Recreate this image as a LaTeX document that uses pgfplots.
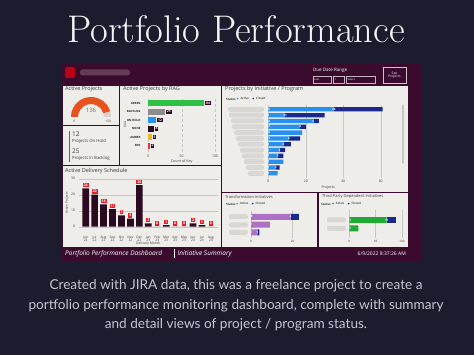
\documentclass[border=0pt]{standalone}
\usepackage{pgfplots}
\pgfplotsset{compat=1.18}
\usepackage{fontspec}
\newfontfamily\ui{Open Sans}
\newfontfamily\gill{Lato}
\newcommand\fs[1]{\fontsize{#1}{#1}\selectfont}
\definecolor{bg}{HTML}{1D1C2E}
\definecolor{frame}{HTML}{3B0B2E}
\definecolor{panel}{HTML}{EFEDEA}
\definecolor{ttl}{HTML}{F4F4F6}
\definecolor{sub}{HTML}{C6C4CE}
\definecolor{gorange}{HTML}{E8521C}
\definecolor{ggray}{HTML}{D6D3D0}
\definecolor{rgreen}{HTML}{2EC045}
\definecolor{rgray}{HTML}{8C8C8C}
\definecolor{rblue}{HTML}{2196F3}
\definecolor{rnone}{HTML}{2B0A22}
\definecolor{ramber}{HTML}{F0B429}
\definecolor{rred}{HTML}{E5313D}
\definecolor{lab}{HTML}{2B0A22}
\definecolor{dred}{HTML}{E41E26}
\definecolor{dbar}{HTML}{2B0A20}
\definecolor{iact}{HTML}{2A90F0}
\definecolor{iclo}{HTML}{1A2A8C}
\definecolor{tpur}{HTML}{AC6FC4}
\definecolor{tgrn}{HTML}{22A836}
\definecolor{txt}{HTML}{3C3C3C}
\definecolor{gridc}{HTML}{C9C6C3}
\pgfplotsset{
  dash/.style={
    scale only axis, anchor=south west,
    axis line style={draw=none}, tick style={draw=none},
    /pgf/number format/assume math mode=true,
    ticklabel style={font=\ui\fs{3.4}, text=txt},
    label style={font=\ui\fs{3.6}, text=txt},
    clip=false,
  },
  seglabel/.style={
    visualization depends on={rawx \as \rawxv},
    point meta=rawx,
    nodes near coords={\pgfmathfloatifflags{\pgfplotspointmeta}{0}{}{\pgfmathprintnumber{\pgfplotspointmeta}}},
    every node near coord/.append style={anchor=center, text=white, font=\ui\bfseries\fs{3}, inner sep=0.5pt, xshift={-0.5*\rawxv*#1}},
  },
  dotlegend/.style={legend image code/.code={\fill[##1] (0pt,0.4pt) circle (0.9pt);},
    legend style={draw=none, fill=none, font=\ui\fs{3}, legend columns=-1, inner sep=0pt,
      /tikz/every even column/.append style={column sep=1.5pt}}},
}
\begin{document}
\begin{tikzpicture}[x=1pt,y=1pt]
\useasboundingbox (0,0) rectangle (474,355);
\fill[bg] (0,0) rectangle (474,355);
\node[anchor=base, text=ttl, font=\fs{38.5}, inner sep=0] at (236,312) {Portfolio Performance};
\node[anchor=base, text=sub, font=\gill\fs{13.6}, inner sep=0] at (236,65) {Created with JIRA data, this was a freelance project to create a};
\node[anchor=base, text=sub, font=\gill\fs{13.6}, inner sep=0] at (236,45.5) {portfolio performance monitoring dashboard, complete with summary};
\node[anchor=base, text=sub, font=\gill\fs{13.6}, inner sep=0] at (236,26) {and detail views of project / program status.};
% dashboard frame
\fill[frame] (62,93) rectangle (421,292);
\foreach \a/\b/\c/\d in {63/230/119/269, 63/190/119/229, 120/190/221/269, 63/108/221/189, 222/163/408/269, 222/108/317/162, 319/108/408/162}
  \fill[panel] (\a,\b) rectangle (\c,\d);
% header
\fill[red!75!frame, rounded corners=2pt, opacity=0.85] (65,277) rectangle (75,288);
\fill[white, opacity=0.2, rounded corners=2.5pt] (80,279.5) rectangle (130,285.5);
\node[anchor=west, text=white, font=\ui\fs{4.5}, inner sep=0] at (313,285) {Due Date Range};
\draw[white!70!frame, line width=0.3pt] (313,272) rectangle (331,279);
\draw[white!70!frame, line width=0.3pt] (333,272) rectangle (344,279);
\draw[white!70!frame, line width=0.3pt] (346,272) rectangle (375,279);
\node[anchor=west, text=white, font=\ui\fs{2.6}, inner sep=0] at (314,275.5) {Last};
\node[anchor=west, text=white, font=\ui\fs{2.6}, inner sep=0] at (334.5,275.5) {1};
\node[anchor=west, text=white, font=\ui\fs{2.6}, inner sep=0] at (347.5,275.5) {Select};
\draw[white!75!frame, line width=0.6pt] (383,272) rectangle (406,288);
\node[align=center, text=white, font=\ui\fs{3.3}, inner sep=0] at (394.5,280) {See\\Projects};
% footer
\node[anchor=west, text=white, font=\ui\itshape\fs{6.5}, inner sep=0] at (65,101) {Portfolio Performance Dashboard};
\draw[white, line width=0.6pt] (174,96.5) -- (174,105.5);
\node[anchor=west, text=white, font=\ui\itshape\fs{6.5}, inner sep=0] at (177.5,101) {Initiative Summary};
\node[anchor=east, text=white, font=\ui\fs{5}, inner sep=0] at (406,101) {6/9/2022 8:37:26 AM};
% panel titles
\node[anchor=west, text=txt, font=\ui\fs{5.5}, inner sep=0] at (65,266) {Active Projects};
\node[anchor=west, text=txt, font=\ui\fs{5.5}, inner sep=0] at (123,266) {Active Projects by RAG};
\node[anchor=west, text=txt, font=\ui\fs{5.5}, inner sep=0] at (225,266) {Projects by Initiative / Program};
\node[anchor=west, text=txt, font=\ui\fs{5.5}, inner sep=0] at (65,184) {Active Delivery Schedule};
\node[anchor=west, text=txt, font=\ui\fs{4}, inner sep=0] at (225,158.5) {Transformation Initiatives};
\node[anchor=west, text=txt, font=\ui\fs{4}, inner sep=0] at (322,158.5) {Third Party Dependent Initiatives};
\node[anchor=west, text=txt, font=\ui\bfseries\fs{3}, inner sep=0] at (226,256) {Status};
\node[anchor=west, text=txt, font=\ui\bfseries\fs{3}, inner sep=0] at (226,151) {Status};
\node[anchor=west, text=txt, font=\ui\bfseries\fs{3}, inner sep=0] at (321,151) {Status};
% KPIs
\draw[txt!80, line width=0.8pt] (69,193) -- (69,224);
\node[anchor=west, text=txt, font=\ui\fs{6.5}, inner sep=0] at (72,221) {12};
\node[anchor=west, text=txt, font=\ui\fs{4.3}, inner sep=0] at (72,214) {Projects On Hold};
\node[anchor=west, text=txt, font=\ui\fs{6.5}, inner sep=0] at (72,204) {25};
\node[anchor=west, text=txt, font=\ui\fs{4.3}, inner sep=0] at (72,197) {Projects In Backlog};
% blurred labels
\foreach \i/\s in {0/228,1/229,2/231,3/232,4/234,5/236,6/238,7/240,8/242,9/244,10/246,11/248}
  \fill[black, opacity=0.09, rounded corners=2pt] (\s,{355-109.3-5.82*\i-2.5}) rectangle (264,{355-109.3-5.82*\i+2.5});
\foreach \yy in {138.3,130,122.7} \fill[black, opacity=0.09, rounded corners=2pt] (229,\yy-2.5) rectangle (248,\yy+2.5);
\foreach \yy in {135,126.7} \fill[black, opacity=0.09, rounded corners=2pt] (327,\yy-2.5) rectangle (346,\yy+2.5);
\draw[gray!45, line width=1.2pt, line cap=round] (403,192) -- (403,250);
% gauge
\pgfmathsetmacro\gend{180-180*(136/150)}
\begin{axis}[at={(70pt,238pt)}, anchor=south west, scale only axis, width=42pt, height=21pt,
  xmin=-1,xmax=1,ymin=0,ymax=1, hide axis, clip=false]
  \fill[ggray] (axis cs:0,0) ++(\gend:20pt) arc[start angle=\gend,end angle=0,radius=20pt] -- ++(0:-7pt) arc[start angle=0,end angle=\gend,radius=13pt] -- cycle;
  \fill[gorange] (axis cs:0,0) ++(180:20pt) arc[start angle=180,end angle=\gend,radius=20pt] -- ++(\gend:-7pt) arc[start angle=\gend,end angle=180,radius=13pt] -- cycle;
  \node[text=txt!75, font=\ui\fs{6}] at (axis cs:0,0.3) {136};
  \node[text=txt, font=\ui\fs{3.2}] at (axis cs:-0.8,-0.2) {0};
  \node[text=txt, font=\ui\fs{3.2}] at (axis cs:0.82,-0.2) {150};
\end{axis}
% RAG
\begin{axis}[dash, at={(148.3pt,203.4pt)}, width=66.7pt, height=54.3pt,
  xmin=0,xmax=100,ymin=-0.7,ymax=5.7,
  xbar, bar width=6pt,
  xtick={0,50,100}, xmajorgrids, major grid style={densely dashed, gridc, line width=0.3pt},
  ytick={0,...,5}, yticklabels={RED,AMBER,NONE,ON HOLD,BACKLOG,GREEN},
  yticklabel style={font=\ui\bfseries\fs{2.9}, text=black!85},
  xticklabel style={anchor=center, yshift=-5pt},
  xlabel={Count of Key}, xlabel style={at={(axis description cs:0.5,0)}, anchor=center, yshift=-10pt},
  ylabel={RAG}, ylabel style={at={(axis description cs:-0.35,0.5)}, anchor=center, font=\ui\fs{3}},
  nodes near coords,
  every node near coord/.append style={fill=lab, text=white, font=\ui\bfseries\fs{3.4}, inner sep=0.9pt, anchor=west, xshift=0.8pt},
]
\addplot[fill=rgreen, draw=none, bar shift=0pt] coordinates {(84,5)};
\addplot[fill=rgray, draw=none, bar shift=0pt] coordinates {(25,4)};
\addplot[fill=rblue, draw=none, bar shift=0pt] coordinates {(12,3)};
\addplot[fill=rnone, draw=none, bar shift=0pt] coordinates {(8,2)};
\addplot[fill=ramber, draw=none, bar shift=0pt] coordinates {(5,1)};
\addplot[fill=rred, draw=none, bar shift=0pt] coordinates {(2,0)};
\end{axis}
% Delivery
\begin{axis}[dash, at={(78.5pt,128.3pt)}, width=139.6pt, height=48pt,
  xmin=-0.8,xmax=14.8,ymin=0,ymax=30,
  ybar, bar width=6.7pt,
  ytick={0,10,20,30}, ymajorgrids, major grid style={gridc, line width=0.3pt},
  xtick={0,...,14},
  xticklabels={{Jun\\22},{Jul\\22},{Aug\\22},{Sep\\22},{Oct\\22},{Nov\\22},{Dec\\22},{Jan\\23},{Feb\\23},{Mar\\23},{Apr\\23},{May\\23},{Jun\\23},{Jul\\23},{Aug\\23}},
  xticklabel style={align=center, anchor=center, yshift=-7.8pt, font=\ui\fs{3.3}},
  xlabel={Delivery Month}, xlabel style={at={(axis description cs:0.5,0)}, anchor=center, yshift=-17.3pt, font=\ui\fs{3.4}},
  ylabel={Active Projects}, ylabel style={at={(axis description cs:-0.082,0.5)}, anchor=center, font=\ui\fs{3.2}},
  nodes near coords,
  every node near coord/.append style={fill=dred, text=white, font=\ui\bfseries\fs{3.6}, inner sep=0.9pt, anchor=south, yshift=0.8pt},
]
\addplot[fill=dbar, draw=none, bar shift=0pt] coordinates {(0,24)(1,20)(2,14)(3,11)(4,7)(5,5)(6,26)(7,2)(8,0)(9,1)(10,0)(11,0)(12,2)(13,1)(14,0)};
\end{axis}
% Initiative / Program
\begin{axis}[dash, at={(268.3pt,177pt)}, width=119.9pt, height=73.3pt,
  xmin=0,xmax=64,ymin=-0.8,ymax=11.8,
  xbar stacked, bar width=4.3pt,
  ytick=\empty, xtick={0,20,40,60}, xmajorgrids, major grid style={gridc, line width=0.4pt},
  xticklabel style={anchor=center, yshift=-3.7pt},
  xlabel={Projects}, xlabel style={at={(axis description cs:0.5,0)}, anchor=center, yshift=-9.7pt},
  seglabel=1.873, dotlegend,
  legend style={at={(axis description cs:-0.265,1.078)}, anchor=west},
]
\addplot[fill=iact, draw=none] coordinates {(35,11)(9,10)(24,9)(17,8)(18,7)(11,6)(8,5)(6,4)(5,3)(8,2)(4,1)(5,0)};
\addplot[fill=iclo, draw=none] coordinates {(26,11)(21,10)(3,9)(3,8)(0,7)(6,6)(4,5)(3,4)(3,3)(0,2)(2,1)(0,0)};
\legend{Active,Closed}
\end{axis}
% Transformation
\begin{axis}[dash, at={(251pt,117.2pt)}, width=50pt, height=26.5pt,
  xmin=0,xmax=24,ymin=-0.7,ymax=2.7,
  xbar stacked, bar width=6pt,
  ytick=\empty, xtick={0,20}, xmajorgrids, major grid style={gridc, line width=0.4pt},
  xticklabel style={anchor=center, yshift=-3.9pt, font=\ui\fs{3}},
  seglabel=2.085, dotlegend,
  legend style={at={(axis description cs:-0.30,1.275)}, anchor=west},
]
\addplot[fill=tpur, draw=none] coordinates {(19,2)(9,1)(3,0)};
\addplot[fill=iclo, draw=none] coordinates {(4,2)(0,1)(1,0)};
\legend{Active,Closed}
\end{axis}
% Third party
\begin{axis}[dash, at={(349.3pt,116.7pt)}, width=52.7pt, height=28.2pt,
  xmin=0,xmax=100,ymin=-1.2,ymax=2.2,
  xbar stacked, bar width=6pt,
  ytick=\empty, xtick={0,50,100}, xmajorgrids, major grid style={gridc, line width=0.4pt},
  xticklabel style={anchor=center, yshift=-3.4pt, font=\ui\fs{3}},
  seglabel=0.527, dotlegend,
  legend style={at={(axis description cs:-0.33,1.216)}, anchor=west},
]
\addplot[fill=tgrn, draw=none] coordinates {(71,1)(17,0)};
\addplot[fill=iclo, draw=none] coordinates {(17,1)(0,0)};
\legend{Active,Closed}
\end{axis}
\end{tikzpicture}
\end{document}
